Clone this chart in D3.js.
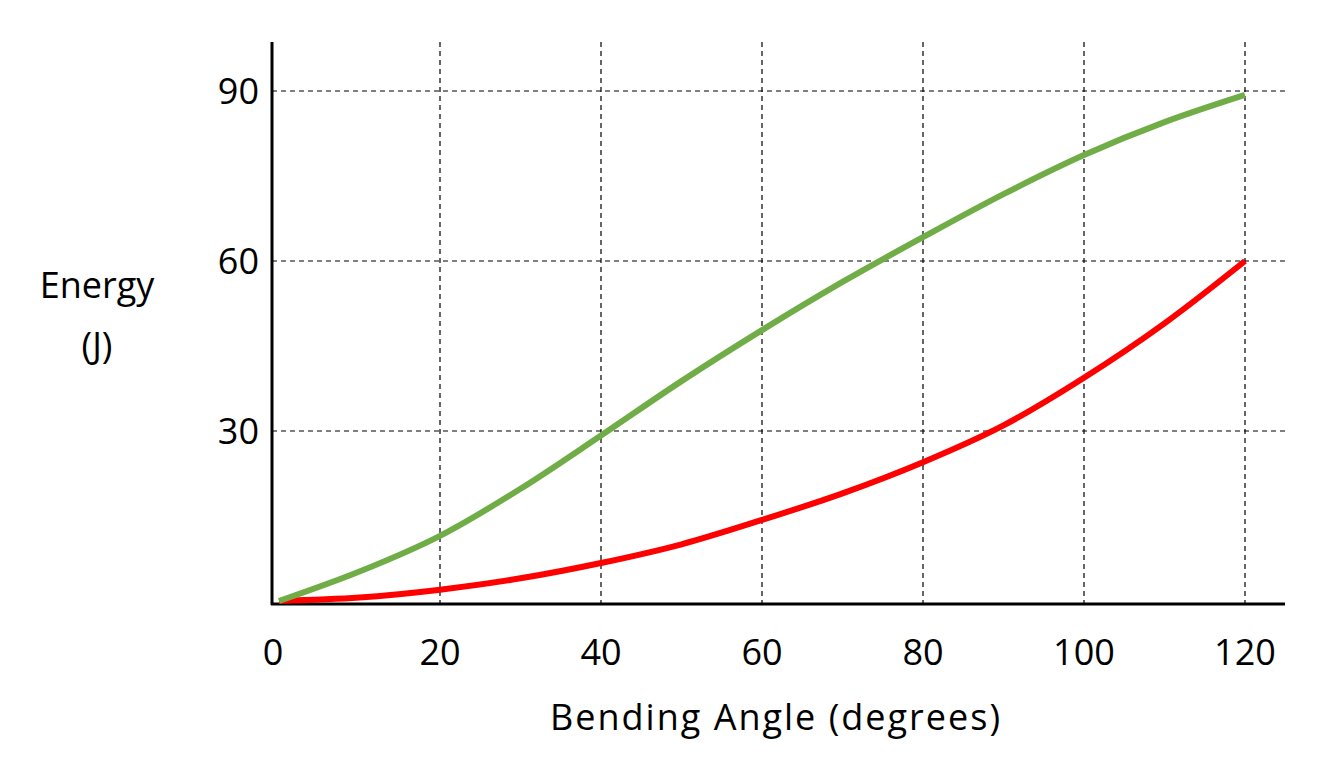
<!DOCTYPE html>
<html><head><meta charset="utf-8">
<script src="https://cdn.jsdelivr.net/npm/d3@7"></script>
<style>body{margin:0;background:#fff}text{font-family:"Open Sans",sans-serif;fill:#000}</style>
</head><body><svg id="c" width="1328" height="772"></svg>
<script>
const angles=[0,10,20,30,40,50,60,70,80,90,100,110,120];
const greenSeries=[0,5.2,11.5,19.8,29.2,38.8,47.8,56.3,64.2,71.8,78.7,84.5,89.3];
const redSeries=[0,0.6,2,4,6.7,10,14.3,19,24.5,31,39.4,49,60];
const xTicks=[0,20,40,60,80,100,120];
const yTicks=[30,60,90];
const svg=d3.select("#c");
const x=d3.scaleLinear().domain([0,120]).range([279,1245]);
const y=d3.scaleLinear().domain([0,90]).range([601,91]);
const g=svg.append("g");
g.selectAll(".vg").data(xTicks.slice(1)).join("line").attr("x1",d=>x(d)).attr("x2",d=>x(d)).attr("y1",42).attr("y2",604).attr("stroke","#000").attr("stroke-width",1.2).attr("stroke-dasharray","5,4");
g.selectAll(".hg").data(yTicks).join("line").attr("x1",272).attr("x2",1285).attr("y1",d=>y(d)).attr("y2",d=>y(d)).attr("stroke","#000").attr("stroke-width",1.2).attr("stroke-dasharray","5,4");
g.append("line").attr("x1",272).attr("x2",272).attr("y1",42).attr("y2",605).attr("stroke","#000").attr("stroke-width",3);
g.append("line").attr("x1",271).attr("x2",1285).attr("y1",604).attr("y2",604).attr("stroke","#000").attr("stroke-width",3);
g.selectAll(".xt").data(xTicks).join("text").attr("x",d=>d===0?273:x(d)).attr("y",665).attr("text-anchor","middle").attr("font-size",36).text(d=>d);
g.selectAll(".yt").data(yTicks).join("text").attr("x",259).attr("y",d=>y(d)+13).attr("text-anchor","end").attr("font-size",36).text(d=>d);
svg.append("text").attr("x",775).attr("y",730).attr("text-anchor","middle").attr("font-size",36).attr("textLength",450).text("Bending Angle (degrees)");
svg.append("text").attr("x",97).attr("y",298).attr("text-anchor","middle").attr("font-size",36).text("Energy");
svg.append("text").attr("x",97).attr("y",358).attr("text-anchor","middle").attr("font-size",36).text("(J)");
const line=d3.line().x((d,i)=>x(angles[i])).y(d=>y(d)).curve(d3.curveCatmullRom);
svg.append("path").attr("d",line(redSeries)).attr("fill","none").attr("stroke","#ff0000").attr("stroke-width",6);
svg.append("path").attr("d",line(greenSeries)).attr("fill","none").attr("stroke","#70ad47").attr("stroke-width",6);
</script></body></html>
